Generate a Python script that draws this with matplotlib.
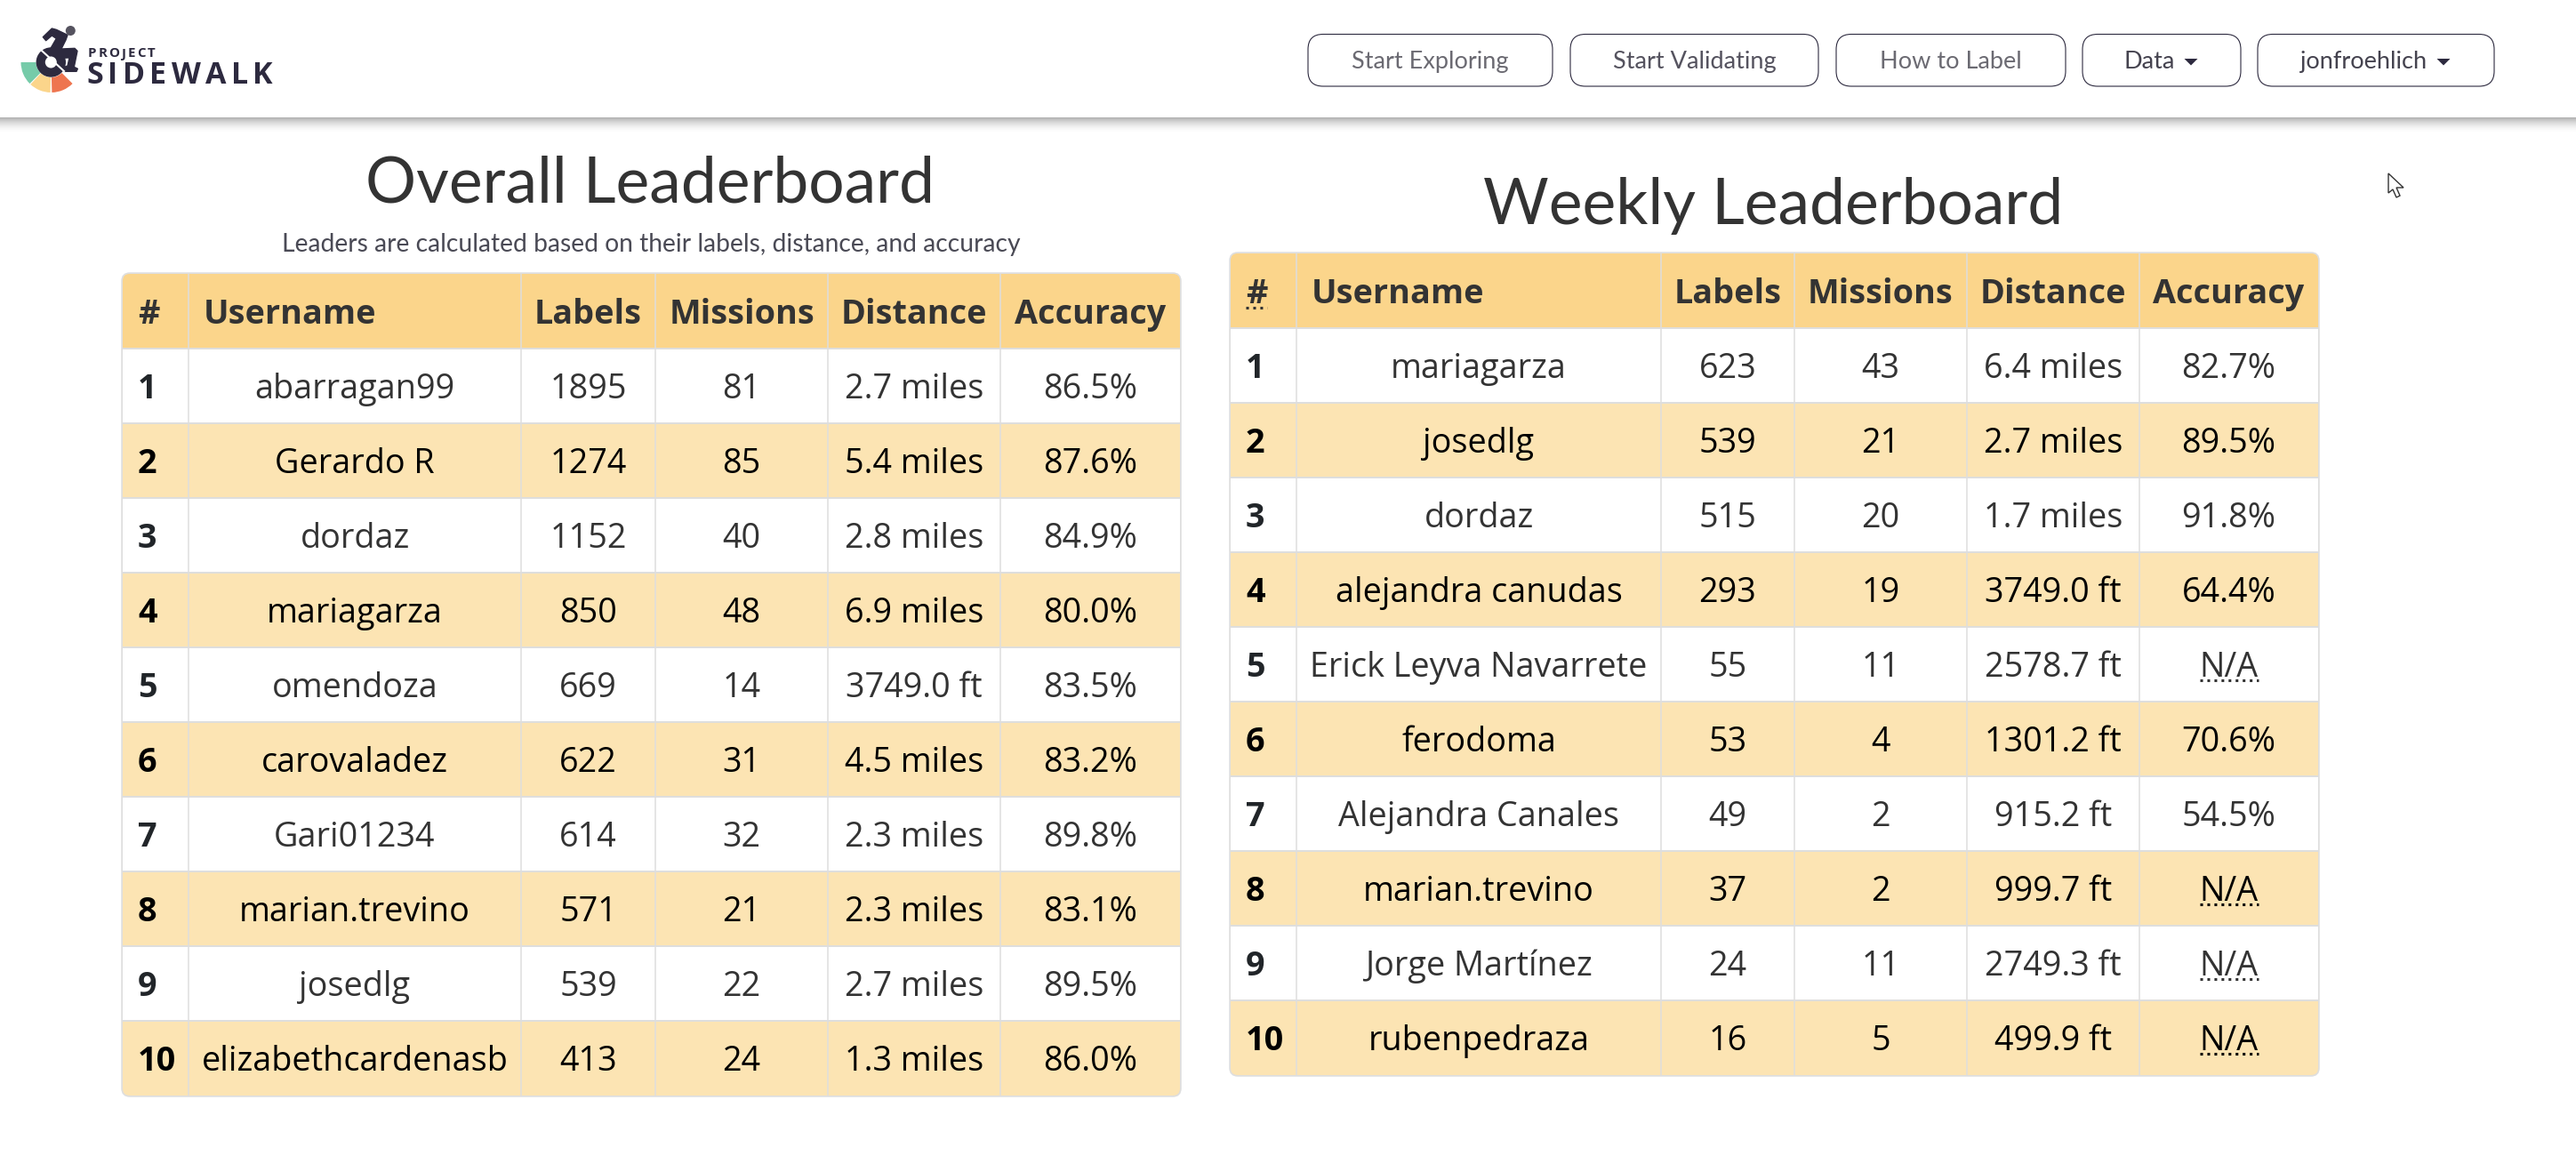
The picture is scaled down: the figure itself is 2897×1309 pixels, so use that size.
import matplotlib
matplotlib.use("Agg")
import matplotlib.pyplot as plt
from matplotlib.patches import Rectangle, FancyBboxPatch, Wedge, Circle, Polygon

# table contents
columns = ["#", "Username", "Labels", "Missions", "Distance", "Accuracy"]
ranks = ["1", "2", "3", "4", "5", "6", "7", "8", "9", "10"]

overall_users = ["abarragan99", "Gerardo R", "dordaz", "mariagarza", "omendoza",
                 "carovaladez", "Gari01234", "marian.trevino", "josedlg", "elizabethcardenasb"]
overall_labels = [1895, 1274, 1152, 850, 669, 622, 614, 571, 539, 413]
overall_missions = [81, 85, 40, 48, 14, 31, 32, 21, 22, 24]
overall_distance = ["2.7 miles", "5.4 miles", "2.8 miles", "6.9 miles", "3749.0 ft",
                    "4.5 miles", "2.3 miles", "2.3 miles", "2.7 miles", "1.3 miles"]
overall_accuracy = ["86.5%", "87.6%", "84.9%", "80.0%", "83.5%",
                    "83.2%", "89.8%", "83.1%", "89.5%", "86.0%"]

weekly_users = ["mariagarza", "josedlg", "dordaz", "alejandra canudas", "Erick Leyva Navarrete",
                "ferodoma", "Alejandra Canales", "marian.trevino", "Jorge Martínez", "rubenpedraza"]
weekly_labels = [623, 539, 515, 293, 55, 53, 49, 37, 24, 16]
weekly_missions = [43, 21, 20, 19, 11, 4, 2, 2, 11, 5]
weekly_distance = ["6.4 miles", "2.7 miles", "1.7 miles", "3749.0 ft", "2578.7 ft",
                   "1301.2 ft", "915.2 ft", "999.7 ft", "2749.3 ft", "499.9 ft"]
weekly_accuracy = ["82.7%", "89.5%", "91.8%", "64.4%", "N/A", "70.6%", "54.5%", "N/A", "N/A", "N/A"]

nav_buttons = ["Start Exploring", "Start Validating", "How to Label", "Data", "jonfroehlich"]

W, H = 2897, 1309
DARK = "#2d2a3f"
HEAD = "#fbd58b"
ALT = "#fce4b3"
GRID = "#dedede"
UI_FONT = "Lato"
TABLE_FONT = "Open Sans"
CELL_SIZE = 27.2

fig = plt.figure(figsize=(W / 100, H / 100), dpi=100)
ax = fig.add_axes([0, 0, 1, 1])
ax.set_xlim(0, W)
ax.set_ylim(H, 0)
ax.axis("off")


def spaced(x, y, s, gap, **kw):
    # matplotlib has no letter spacing, so place the letters one by one
    r = fig.canvas.get_renderer()
    inv = ax.transData.inverted()
    for ch in s:
        t = ax.text(x, y, ch, ha="left", va="baseline", **kw)
        bb = t.get_window_extent(r)
        x = inv.transform((bb.x1, 0))[0] + gap


def draw_table(x_edges, top, users, labels, missions, distance, accuracy, dotted_hash):
    row_h = 84
    bottom = top + row_h * (len(users) + 1)
    clip = FancyBboxPatch((x_edges[0], top), x_edges[-1] - x_edges[0], bottom - top,
                          boxstyle="round,pad=0,rounding_size=8", fc="white", ec=GRID, lw=2.5, zorder=1)
    ax.add_patch(clip)

    ys = [top + row_h * i for i in range(len(users) + 2)]
    for i in range(len(users) + 1):
        c = HEAD if i == 0 else (ALT if i % 2 == 0 else "white")
        cell = Rectangle((x_edges[0], ys[i]), x_edges[-1] - x_edges[0], row_h, fc=c, ec="none", zorder=2)
        ax.add_patch(cell)
        cell.set_clip_path(clip)
        if i > 0:
            ax.plot([x_edges[0], x_edges[-1]], [ys[i], ys[i]], color=GRID, lw=1.4, zorder=3)
    for x in x_edges[1:-1]:
        ax.plot([x, x], [top, bottom], color=GRID, lw=1.1, zorder=3)

    # header row
    base = top + 56
    for j, name in enumerate(columns):
        if j < 2:
            ax.text(x_edges[j] + 17, base, name, ha="left", va="baseline", fontsize=CELL_SIZE,
                    fontweight="bold", family=TABLE_FONT, color="#333333", zorder=4)
        else:
            ax.text((x_edges[j] + x_edges[j + 1]) / 2, base, name, ha="center", va="baseline", fontsize=CELL_SIZE,
                    fontweight="bold", family=TABLE_FONT, color="#333333", zorder=4)
    if dotted_hash:
        ax.plot([x_edges[0] + 17, x_edges[0] + 41], [base + 5, base + 5], color="#333333",
                lw=2.2, ls=(0, (1, 1.6)), zorder=4)

    # body rows
    for i in range(len(users)):
        base = ys[i + 1] + 56
        col = "#000000" if i % 2 == 1 else "#333333"
        ax.text(x_edges[0] + 17, base, ranks[i], ha="left", va="baseline", fontsize=CELL_SIZE,
                fontweight="bold", family=TABLE_FONT, color="#000000" if i % 2 == 1 else "#212529", zorder=4)
        values = [users[i], labels[i], missions[i], distance[i], accuracy[i]]
        for j, v in enumerate(values):
            cx = (x_edges[j + 1] + x_edges[j + 2]) / 2
            ax.text(cx, base, str(v), ha="center", va="baseline", fontsize=CELL_SIZE,
                    family=TABLE_FONT, color=col, zorder=4)
        if accuracy[i] == "N/A":
            cx = (x_edges[5] + x_edges[6]) / 2
            ax.plot([cx - 33, cx + 33], [base + 4, base + 4], color=col, lw=2.2,
                    ls=(0, (1, 1.6)), zorder=4)


# navbar with its shadow
for i in range(18):
    g = 1 - 0.30 * (1 - i / 18) ** 2
    ax.add_patch(Rectangle((0, 132 + i), W, 1.2, fc=str(g), ec="none", zorder=1))

# logo
ax.add_patch(Wedge((57.5, 70), 34, 135, 180, width=17, fc="#76cba9", ec="none"))
ax.add_patch(Wedge((57.5, 70), 34, 91.5, 133, width=17, fc="#fbd58b", ec="none"))
ax.add_patch(Wedge((57.5, 70), 34, 45, 88.5, width=17, fc="#ee754f", ec="none"))
ax.add_patch(Circle((57.3, 70), 16.7, fc=DARK, ec="none", zorder=3))
body = [(145, 125), (175, 96), (190, 100), (228, 118), (222, 135), (207, 165), (252, 163), (261, 172),
        (250, 226), (262, 232), (258, 241), (215, 241), (212, 228), (228, 222), (234, 195), (190, 196),
        (168, 168), (190, 130), (175, 120), (155, 137)]
ax.add_patch(Polygon([(px / 3, py / 3) for px, py in body], closed=True, fc=DARK, ec=DARK, lw=1,
                     joinstyle="round", zorder=3))
ax.add_patch(Circle((79.3, 34.5), 5.5, fc="#55535f", ec="none", zorder=3))
ax.plot([46.5, 72], [56.5, 80], color="white", lw=1.5, zorder=4)
ax.add_patch(Circle((57.3, 70), 6.5, fc="white", ec="none", zorder=5))
spaced(99, 64.5, "PROJECT", 2.0, fontsize=10.8, fontweight="bold", family="Open Sans", color=DARK)
spaced(97, 94.3, "SIDEWALK", 5.4, fontsize=24.5, fontweight="bold", family="Open Sans", color=DARK)

# nav buttons
button_left = [1471, 1766, 2065, 2342, 2539]
button_right = [1746, 2045, 2323, 2520, 2805]
button_text = [1608.5, 1905.5, 2194, 2417, 2658]
button_color = ["#6b6a72", "#55535f", "#6b6a72", "#45434f", "#45434f"]
for left, right, label, tx, col in zip(button_left, button_right, nav_buttons, button_text, button_color):
    ax.add_patch(FancyBboxPatch((left, 38.5), right - left, 58.5, boxstyle="round,pad=0,rounding_size=17",
                                fc="white", ec=DARK, lw=0.8))
    ax.text(tx, 77, label, ha="center", va="baseline", fontsize=19.5, family=UI_FONT, color=col)
for cx in [2464, 2748]:
    ax.add_patch(Polygon([(cx - 7.5, 66), (cx + 7.5, 66), (cx, 73.5)], closed=True, fc=DARK, ec="none"))

# headings
ax.text(731, 228, "Overall Leaderboard", ha="center", va="baseline", fontsize=51.3, family=UI_FONT, color="#333333")
ax.text(1994, 252, "Weekly Leaderboard", ha="center", va="baseline", fontsize=51.3, family=UI_FONT, color="#333333")
ax.text(732, 283, "Leaders are calculated based on their labels, distance, and accuracy", ha="center",
        va="baseline", fontsize=20.3, family=UI_FONT, color="#4a4a55")

# mouse pointer left in the screenshot
pointer = [(2686, 195), (2686, 217), (2691, 213), (2695, 222), (2699, 220), (2695, 211), (2703, 211)]
ax.add_patch(Polygon(pointer, closed=True, fc="white", ec="#333333", lw=1))

draw_table([138, 212, 586, 737, 931, 1125, 1327], 308, overall_users, overall_labels, overall_missions,
           overall_distance, overall_accuracy, False)
draw_table([1384, 1458, 1868, 2018, 2212, 2406, 2607], 285, weekly_users, weekly_labels, weekly_missions,
           weekly_distance, weekly_accuracy, True)

fig.savefig("out.png", dpi=100, facecolor="white")
